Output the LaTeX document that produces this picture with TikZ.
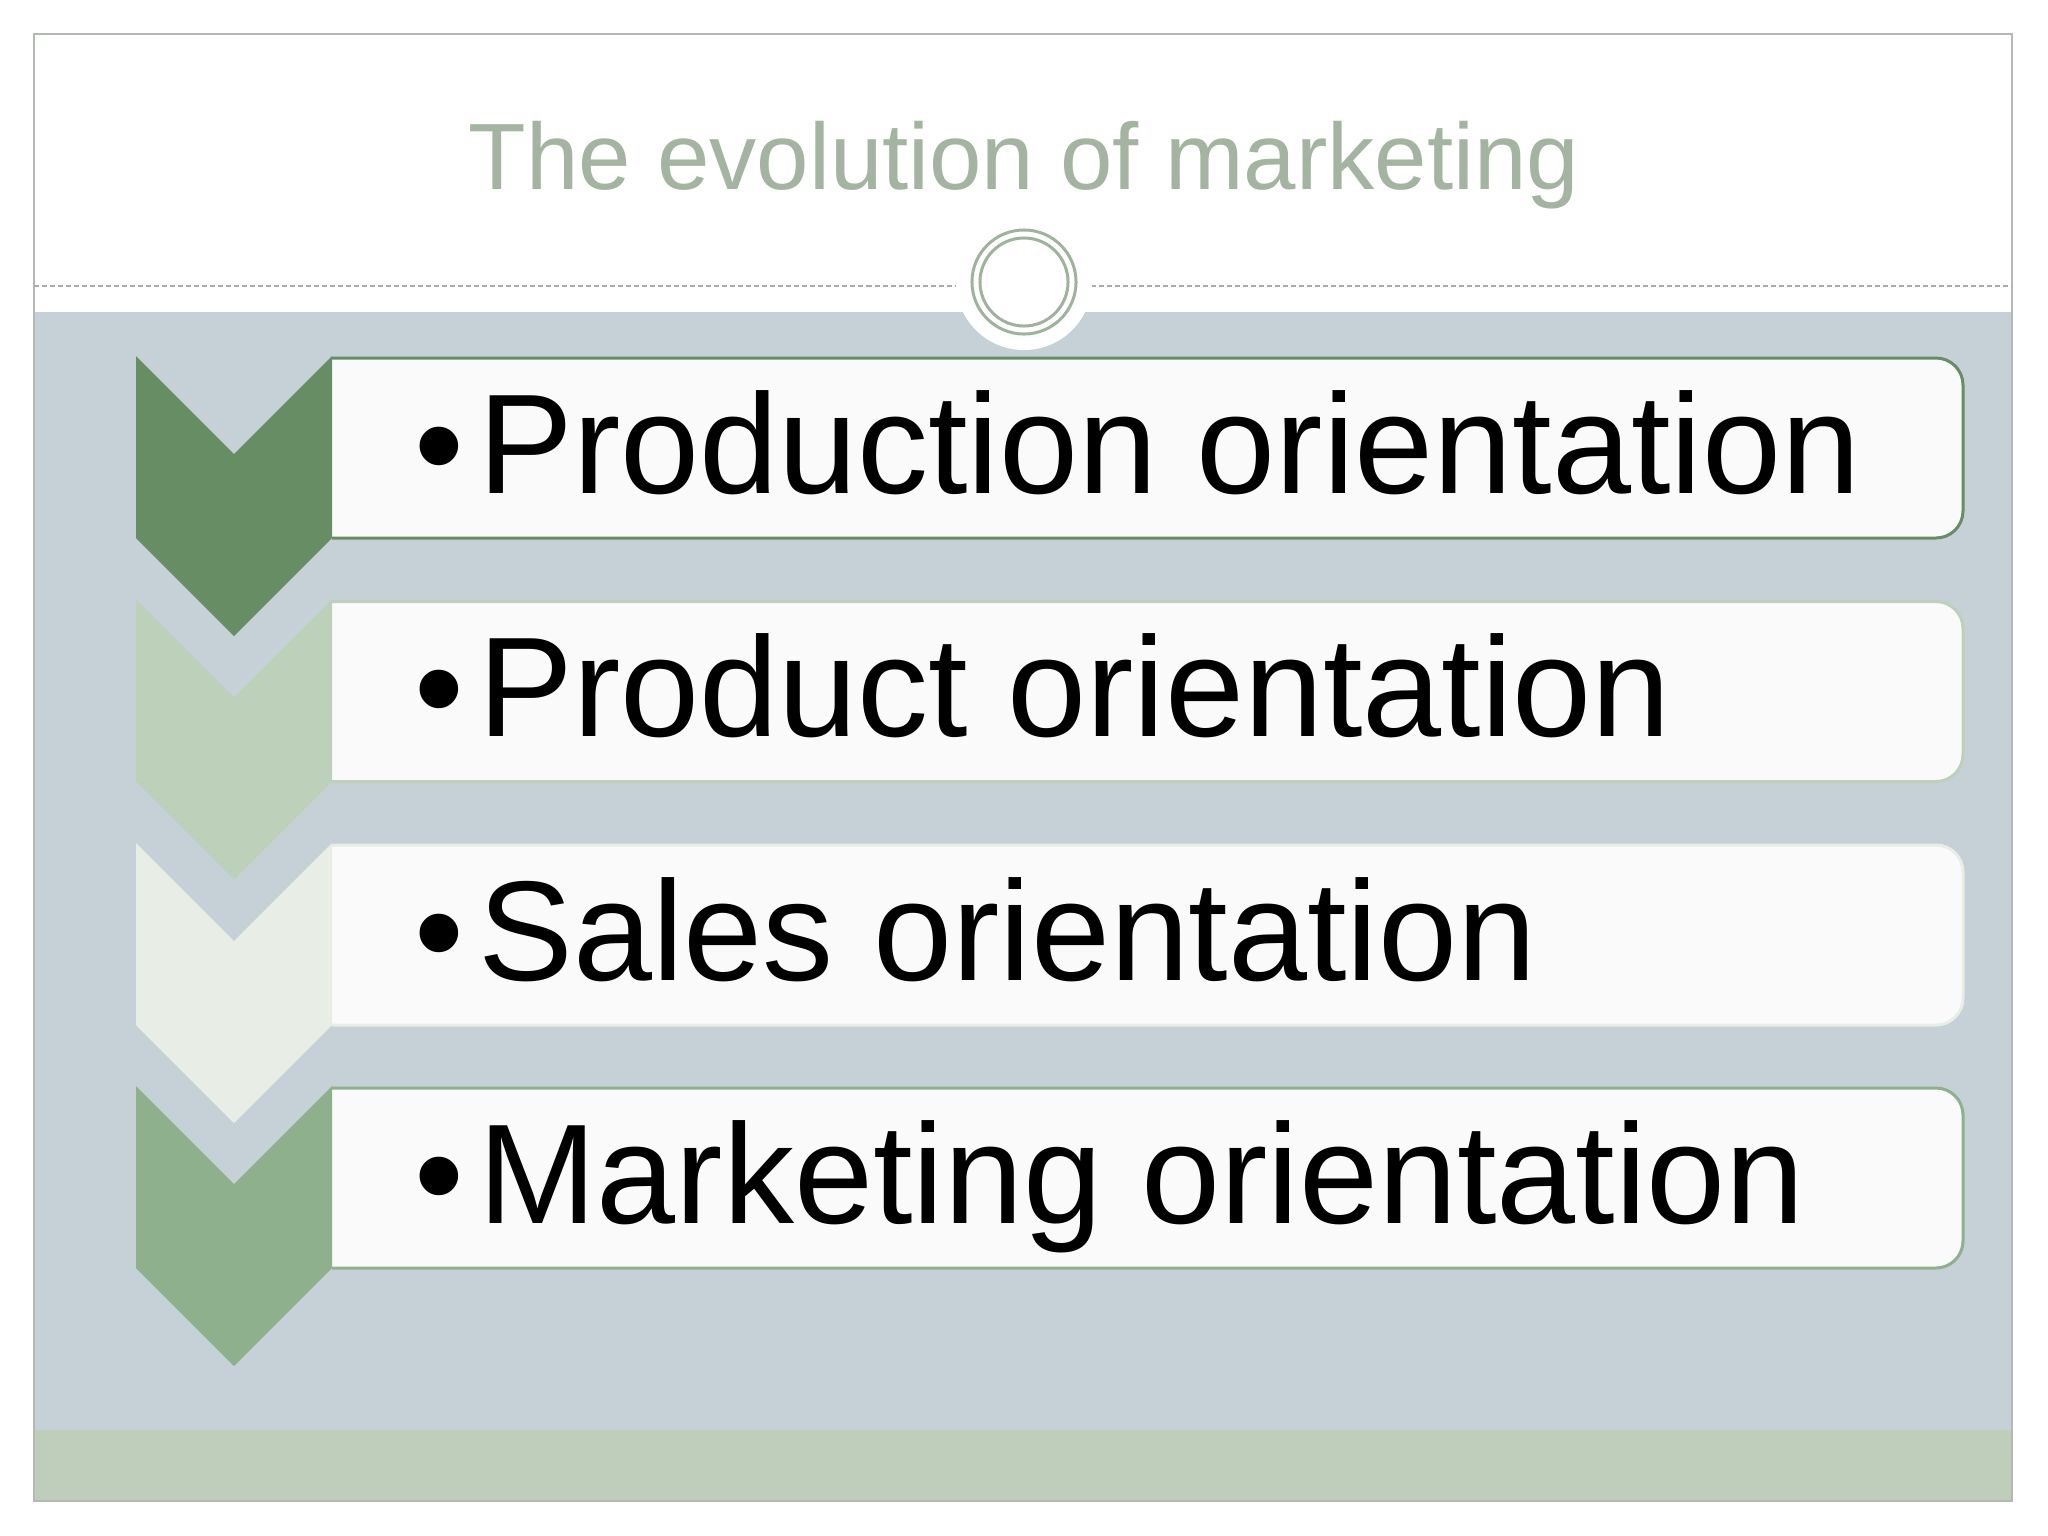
\documentclass[tikz,border=0pt]{standalone}
\usepackage{fontspec}
\setmainfont{Liberation Sans}
\usepackage{tikz}
\usetikzlibrary{positioning}

\definecolor{framegray}{HTML}{B4B9B4}
\definecolor{dashgray}{HTML}{ABABAB}
\definecolor{bandblue}{HTML}{C5D1D7}
\definecolor{bandgreen}{HTML}{BFCEBA}
\definecolor{ringgreen}{HTML}{9FB29C}
\definecolor{titlegreen}{HTML}{A3B5A0}
\definecolor{boxfill}{HTML}{F9FAF9}
\definecolor{chevdark}{HTML}{668D63}
\definecolor{chevlight}{HTML}{BDD0BA}
\definecolor{chevpale}{HTML}{E8EEE6}
\definecolor{chevmid}{HTML}{8FB08C}

\tikzset{
  titletext/.style={text=titlegreen, inner sep=0pt, font=\fontsize{26.8}{32}\selectfont},
  itemtext/.style={text=black, inner sep=0pt, anchor=base west, font=\fontsize{40.4}{48}\selectfont},
  itembox/.style={fill=boxfill, line width=0.03cm, rounded corners=0.27cm},
  ring/.style={draw=ringgreen, line width=0.03cm}
}

\begin{document}
\begin{tikzpicture}[x=0.01cm,y=-0.01cm]
  \useasboundingbox (0,0) rectangle (2048,1536);
  \fill[white] (0,0) rectangle (2048,1536);
  % slide bands and frame
  \fill[bandblue] (34,312) rectangle (2012,1430);
  \fill[bandgreen] (34,1430) rectangle (2012,1501);
  \draw[framegray, line width=0.025cm] (34,34) rectangle (2012,1501);
  % dashed rule under the title, broken by the medallion
  \draw[dashgray, line width=0.02cm, dash pattern=on 0.05cm off 0.03cm] (34,286) -- (2012,286);
  \fill[white] (1024,282) circle[radius=0.68cm];
  \draw[ring] (1024,282) circle[radius=0.52cm];
  \draw[ring] (1024,282) circle[radius=0.44cm];
  \node[titletext, anchor=base] (title) at (1024,189) {The evolution of marketing};
  % the four stages: box, then chevron over its left end
  \foreach \n/\t/\col/\txt in {1/356/chevdark/Production orientation,
                              2/599.5/chevlight/Product orientation,
                              3/843/chevpale/Sales orientation,
                              4/1086/chevmid/Marketing orientation}{
    \begin{scope}
      \clip (332,0) rectangle (2048,1536);
      \draw[itembox, draw=\col] (290,\t+2) rectangle (1963,\t+182);
    \end{scope}
    \fill[\col] (136,\t) -- (234,\t+98) -- (332,\t) -- (332,\t+182)
      -- (234,\t+280) -- (136,\t+182) -- cycle;
    \node[itemtext] (stage\n) at (414,\t+137) {\textbullet\hspace{0.14cm}\txt};
  }
\end{tikzpicture}
\end{document}
